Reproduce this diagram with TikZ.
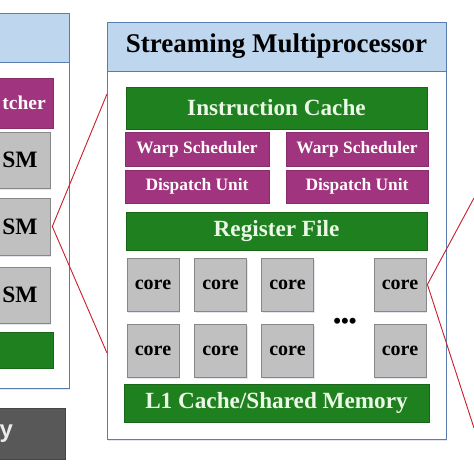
\documentclass[tikz,border=0pt]{standalone}
\usepackage{fontspec}
\setmainfont{Liberation Serif}
\newfontfamily\sansbold{Liberation Sans}
\usetikzlibrary{shadows}
\definecolor{hdrblue}{RGB}{190,215,238}
\definecolor{bordblue}{RGB}{90,125,175}
\definecolor{gpugreen}{RGB}{30,128,30}
\definecolor{gpupurple}{RGB}{160,52,126}
\definecolor{coregray}{RGB}{192,192,192}
\definecolor{coreedge}{RGB}{135,135,135}
\definecolor{darkbox}{RGB}{88,88,88}
\definecolor{linkred}{RGB}{200,30,45}
\definecolor{greentext}{RGB}{236,248,230}
\begin{document}
\begin{tikzpicture}[x=1pt,y=-1pt,
  softshadow/.style={drop shadow={shadow xshift=1.2pt, shadow yshift=-1.5pt, opacity=0.18, fill=bordblue!60!gray}},
  outerbox/.style={draw=bordblue, line width=1pt, fill=white, inner sep=0pt, softshadow},
  headbox/.style={draw=bordblue, line width=1pt, fill=hdrblue, inner sep=0pt},
  greenbox/.style={fill=gpugreen, draw=gpugreen!80!black, line width=0.4pt, inner sep=0pt, text=greentext, font=\bfseries\fontsize{23.2}{26}\selectfont},
  purplebox/.style={fill=gpupurple, draw=gpupurple!85!black, line width=0.4pt, inner sep=0pt, text=white, font=\bfseries\fontsize{17.4}{20}\selectfont},
  corebox/.style={fill=coregray, draw=coreedge, line width=0.8pt, inner sep=0pt, minimum width=52pt, minimum height=53pt, font=\bfseries\fontsize{20}{22}\selectfont, softshadow},
  smbox/.style={fill=coregray, draw=coreedge, line width=0.6pt, inner sep=0pt, minimum width=60pt, font=\bfseries\fontsize{23.5}{26}\selectfont, softshadow},
  link/.style={draw=linkred, line width=0.9pt}
]
\useasboundingbox (0,0) rectangle (474,474);
\fill[white] (0,0) rectangle (474,474);

% left (partial) GPU box
\node (gpubody) [outerbox, minimum width=99pt, minimum height=375pt] at (19.5,200.5) {};
\node (gpuhead) [headbox, minimum width=99pt, minimum height=49pt] at (19.5,37.5) {};
\node (disp) [purplebox, minimum width=73pt, minimum height=50pt, anchor=east, text width=73pt, align=right, font=\bfseries\fontsize{19.5}{22}\selectfont] at (53,103) {tcher\hspace*{7pt}};
\node (sm1) [smbox, minimum height=56pt] at (20,160) {SM};
\node (sm2) [smbox, minimum height=57pt] at (20,226.5) {SM};
\node (sm3) [smbox, minimum height=56pt] at (20,295) {SM};
\node (gbot) [greenbox, minimum width=73pt, minimum height=36pt] at (16.5,350) {};
\node (gmem) [fill=darkbox, draw=darkbox!80!black, line width=0.4pt, inner sep=0pt, minimum width=85pt, minimum height=51pt, text=white!92!black, text width=85pt, align=right, font=\sansbold\bfseries\fontsize{24}{28}\selectfont] at (22.5,433.5) {y\hspace*{52pt}};

% streaming multiprocessor
\node (smbody) [outerbox, minimum width=339pt, minimum height=417pt] at (276.5,230.5) {};
\node (smhead) [headbox, minimum width=339pt, minimum height=49pt, font=\bfseries\fontsize{27}{30}\selectfont] at (276.5,46.5) {Streaming Multiprocessor};
\node (icache) [greenbox, minimum width=301pt, minimum height=42pt] at (276.5,108) {Instruction Cache};
\node (ws1) [purplebox, minimum width=144pt, minimum height=34pt] at (197,149) {Warp Scheduler};
\node (ws2) [purplebox, minimum width=142pt, minimum height=34pt] at (357,149) {Warp Scheduler};
\node (du1) [purplebox, minimum width=144pt, minimum height=33pt] at (197,186.5) {Dispatch Unit};
\node (du2) [purplebox, minimum width=142pt, minimum height=33pt] at (357,186.5) {Dispatch Unit};
\node (regf) [greenbox, minimum width=301pt, minimum height=38pt] at (276.5,231) {Register File};

\node (c11) [corebox] at (153,284.5) {core};
\node (c12) [corebox] at (220.5,284.5) {core};
\node (c13) [corebox] at (287.5,284.5) {core};
\node (c14) [corebox] at (400,284.5) {core};
\node (c21) [corebox] at (153,350.5) {core};
\node (c22) [corebox] at (220.5,350.5) {core};
\node (c23) [corebox] at (287.5,350.5) {core};
\node (c24) [corebox] at (400,350.5) {core};
\node (dots) [inner sep=0pt, font=\bfseries\fontsize{22}{24}\selectfont] at (345,323) {•••};

\node (l1) [greenbox, minimum width=305pt, minimum height=38pt] at (276.5,403) {L1 Cache/Shared Memory};

% red zoom lines
\coordinate (lt) at (107,94);
\coordinate (lb) at (107,353);
\coordinate (rt) at (474,198);
\coordinate (rb) at (474,428);
\draw[link] (lt) -- ([xshift=2pt]sm2.east) -- (lb);
\draw[link] (rt) -- ([xshift=1pt]c14.east) -- (rb);
\end{tikzpicture}
\end{document}
